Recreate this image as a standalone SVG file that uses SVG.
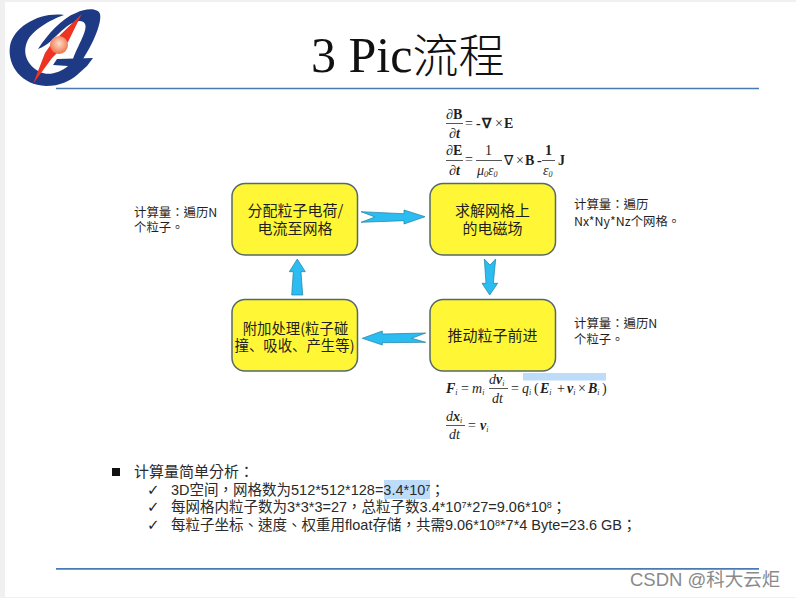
<svg xmlns="http://www.w3.org/2000/svg" width="796" height="598" viewBox="0 0 796 598">
<defs>
<radialGradient id="ball" cx="0.5" cy="0.42" r="0.6"><stop offset="0" stop-color="#fde0cc"/><stop offset="1" stop-color="#ef6a42"/></radialGradient>
<style>
text{font-family:"Liberation Sans","Noto Sans CJK TC",sans-serif;fill:#1f1f1f}
.n{font-size:15px;text-anchor:middle;font-family:"Noto Sans CJK SC",sans-serif}
.n2{font-size:14.400px;text-anchor:middle;font-family:"Noto Sans CJK SC",sans-serif}
.s{font-size:12.400px;font-family:"Noto Sans CJK TC","Liberation Sans",sans-serif}
.b{font-size:14.500px;fill:#2a2a2a}
.c{font-size:15px;font-family:"DejaVu Sans",sans-serif}
.box{fill:#fff735;stroke:#56686a;stroke-width:1.5}
.ar{fill:#2bbcf2;stroke:#1f7f9f;stroke-width:.7}
.rule{stroke:#4a7ab0;stroke-width:1.7}
.m{font-family:"Liberation Serif",serif;font-size:14px}
.mi0{font-family:"Liberation Serif",serif;font-size:14px;font-style:italic}
.mb{font-family:"Liberation Serif",serif;font-size:14px;font-weight:bold}
.mi{font-family:"Liberation Serif",serif;font-size:14px;font-style:italic;font-weight:bold}
.sub{font-family:"Liberation Serif",serif;font-size:8px;font-style:italic;font-weight:normal}
.f{stroke:#444;stroke-width:.9}
</style>
</defs>
<rect width="796" height="598" fill="#ffffff"/>
<rect x="0" y="0" width="796" height="2" fill="#f0f0f0"/>
<rect x="0" y="0" width="5" height="598" fill="#f0f0f0"/>
<rect x="0" y="597" width="796" height="1" fill="#f0f0f0"/>

<g id="logo">
<path fill="#1f3a85" d="M64 15C40 12 14 26 10 46C7 66 22 85 46 86C60 86 70 81 77 75L87 66L93 58L57 59L53 65L68 66C60 73 48 76 40 72C28 66 22 54 27 42C32 30 50 20 64 15Z"/>
<path fill="#1f3a85" d="M38 49C48 34 62 18 76 13C86 8 98 8 100 14C102 22 94 42 83 59L73 59C78 45 88 30 85 24C82 18 72 22 65 28C55 36 48 46 38 49Z"/>
<path fill="#ee3322" d="M81.700 14L68 42L52 58L33 84L45 53L52 43Z"/>
<circle cx="59" cy="45" r="9" fill="url(#ball)"/>
</g>

<g id="title">
<text x="311" y="71.500" style="font-family:'Liberation Serif','Noto Sans CJK SC',serif;font-size:50px;fill:#111">3 Pic<tspan style="font-family:'Noto Sans CJK SC',sans-serif;font-size:46px;font-weight:300">流程</tspan></text>
</g>
<line class="rule" x1="56" y1="88.500" x2="759" y2="88.500"/>
<line class="rule" x1="56" y1="568.800" x2="759" y2="568.800"/>

<g id="connectors">
<path class="ar" d="M361 211.700L404 213.700L404 210L425 216.700L404 224L404 220.700L361 222.300L375 217Z"/>
<path class="ar" d="M484.300 259L490 265L495.700 259L493.300 283.300L497.700 283.300L489.700 295L482 283.300L486 283.300Z"/>
<path class="ar" d="M362.300 338.300L382.300 331L382.300 334L425.700 333L411.700 338.300L425.700 342.300L382.300 342.700L382.300 345Z"/>
<path class="ar" d="M297.300 259L289.300 271.700L293.300 271.700L291.700 295L302.700 295L301 271.700L305.300 271.700Z"/>
</g>

<g id="node-deposit">
<rect class="box" x="232" y="183.500" width="125.500" height="71.500" rx="13"/>
<text class="n" x="295.500" y="216">分配粒子电荷/</text>
<text class="n" x="295" y="234">电流至网格</text>
</g>
<g id="node-field">
<rect class="box" x="430" y="183.500" width="125.500" height="71.500" rx="13"/>
<text class="n" x="492.500" y="216">求解网格上</text>
<text class="n" x="492.500" y="234">的电磁场</text>
</g>
<g id="node-push">
<rect class="box" x="430" y="299.500" width="125.500" height="71.500" rx="13"/>
<text class="n" x="492.500" y="341">推动粒子前进</text>
</g>
<g id="node-extra">
<rect class="box" x="232" y="299.500" width="125.500" height="71.500" rx="13"/>
<text class="n2" x="295.500" y="334">附加处理(粒子碰</text>
<text class="n2" x="294.500" y="351">撞、吸收、产生等)</text>
</g>

<g id="notes">
<text class="s" x="134" y="217">计算量：遍历N</text>
<text class="s" x="134" y="232">个粒子。</text>
<text class="s" x="574" y="209">计算量：遍历</text>
<text class="s" x="574" y="226">Nx*Ny*Nz个网格。</text>
<text class="s" x="574" y="328">计算量：遍历N</text>
<text class="s" x="574" y="344">个粒子。</text>
</g>

<g id="eq-maxwell">
<text class="mb" x="446" y="119">∂B</text><line class="f" x1="446" y1="123.500" x2="463" y2="123.500"/><text class="mi" x="449" y="138">∂t</text>
<text class="m" x="465" y="128">=</text><text class="mb" x="476" y="128">-</text><text class="mb" x="482" y="128">∇</text><text class="m" x="495" y="128">×</text><text class="mb" x="504" y="128">E</text>
<text class="mb" x="446" y="155">∂E</text><line class="f" x1="446" y1="160.500" x2="463" y2="160.500"/><text class="mi" x="449" y="175">∂t</text>
<text class="m" x="465" y="164">=</text>
<text class="m" x="485" y="155">1</text><line class="f" x1="476" y1="160.500" x2="502" y2="160.500"/>
<text class="mi0" x="477" y="175">μ<tspan class="sub" dy="2">0</tspan><tspan dy="-2">ε</tspan><tspan class="sub" dy="2">0</tspan></text>
<text class="m" x="504" y="165">∇</text><text class="m" x="516" y="165">×</text><text class="mb" x="525" y="165">B</text><text class="mb" x="537" y="165">-</text>
<text class="mb" x="545" y="155">1</text><line class="f" x1="542" y1="160.500" x2="555" y2="160.500"/>
<text class="mi0" x="543" y="175">ε<tspan class="sub" dy="2">0</tspan></text>
<text class="mb" x="558" y="165">J</text>
</g>

<rect x="523" y="373" width="83" height="7.500" fill="#bcdcfa"/>

<g id="eq-motion">
<text class="mi" x="446" y="393">F<tspan class="sub" dy="2">i</tspan></text>
<text class="m" x="461" y="393">=</text>
<text class="mi0" x="472" y="393">m<tspan class="sub" dy="2">i</tspan></text>
<text class="mi0" x="489" y="384">d<tspan class="mi">v</tspan><tspan class="sub" dy="2">i</tspan></text>
<line class="f" x1="489" y1="388.500" x2="508" y2="388.500"/>
<text class="mi0" x="492" y="403">dt</text>
<text class="m" x="511" y="393">=</text>
<text class="mi0" x="522" y="393">q<tspan class="sub" dy="2">i</tspan></text>
<text class="m" x="534" y="393">(</text>
<text class="mi" x="540" y="393">E<tspan class="sub" dy="2">i</tspan></text>
<text class="m" x="557" y="393">+</text>
<text class="mi" x="567" y="393">v<tspan class="sub" dy="2">i</tspan></text>
<text class="m" x="578" y="393">×</text>
<text class="mi" x="588" y="393">B<tspan class="sub" dy="2">i</tspan></text>
<text class="m" x="602" y="393">)</text>
<text class="mi0" x="446" y="421">d<tspan class="mi">x</tspan><tspan class="sub" dy="2">i</tspan></text>
<line class="f" x1="446" y1="425.500" x2="465" y2="425.500"/>
<text class="mi0" x="449" y="439">dt</text>
<text class="m" x="468" y="430">=</text>
<text class="mi" x="480" y="430">v<tspan class="sub" dy="2">i</tspan></text>
</g>

<g id="analysis">
<rect x="384" y="480" width="46" height="19" fill="#bcdcfa"/>
<rect x="112" y="468" width="8" height="8" fill="#111"/>
<text x="134" y="477" style="font-family:'Noto Sans CJK TC',sans-serif;font-size:15px;fill:#2a2a2a">计算量简单分析：</text>
<text class="c" x="147" y="495">✓</text>
<text class="c" x="147" y="512">✓</text>
<text class="c" x="147" y="530">✓</text>
<text class="b" x="171" y="495">3D空间，网格数为512*512*128=3.4*10<tspan font-size="9" dy="-4">7</tspan><tspan dy="4">；</tspan></text>
<text class="b" x="171" y="512">每网格内粒子数为3*3*3=27，总粒子数3.4*10<tspan font-size="9" dy="-4">7</tspan><tspan dy="4">*27=9.06*10</tspan><tspan font-size="9" dy="-4">8</tspan><tspan dy="4">；</tspan></text>
<text class="b" x="171" y="530">每粒子坐标、速度、权重用float存储，共需9.06*10<tspan font-size="9" dy="-4">8</tspan><tspan dy="4">*7*4 Byte=23.6 GB；</tspan></text>
</g>

<text x="630" y="586" style="font-family:'Liberation Sans','Noto Sans CJK SC',sans-serif;font-size:18.500px;fill:#8a8a8a">CSDN @科大云炬</text>
</svg>
